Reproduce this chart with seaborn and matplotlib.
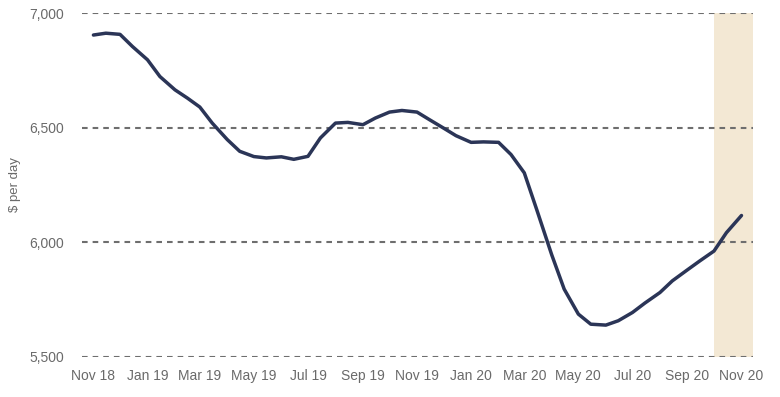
import matplotlib
matplotlib.use("Agg")
import matplotlib.pyplot as plt
import seaborn as sns
import pandas as pd

# ---- data ----
dates = pd.date_range("2018-11-01", periods=49, freq="SMS")
values = [6904, 6912, 6907, 6854, 6796, 6723, 6665, 6629, 6590, 6520,
          6448, 6397, 6374, 6368, 6373, 6362, 6375, 6455, 6520, 6523,
          6513, 6542, 6568, 6575, 6568, 6535, 6498, 6465, 6436, 6438,
          6436, 6383, 6303, 6143, 5945, 5796, 5687, 5643, 5639, 5658,
          5694, 5735, 5781, 5832, 5880, 5919, 5962, 6042, 6117]
tick_dates = pd.date_range("2018-11-01", "2020-11-01", freq="2MS")
tick_labels = ["Nov 18", "Jan 19", "Mar 19", "May 19", "Jul 19", "Sep 19",
               "Nov 19", "Jan 20", "Mar 20", "May 20", "Jul 20", "Sep 20", "Nov 20"]
y_ticks = [5500, 6000, 6500, 7000]
y_labels = ["5,500", "6,000", "6,500", "7,000"]
band_start = pd.Timestamp("2020-10-01")

df = pd.DataFrame({"date": dates, "value": values})

sns.set_theme(style="white")
plt.rcParams["font.family"] = ["Liberation Sans", "DejaVu Sans"]

fig = plt.figure(figsize=(7.8, 3.97), dpi=100)
ax = fig.add_axes([0.105, 0.1008, 0.8604, 0.8664])

xmin = pd.Timestamp("2018-10-19")
xmax = pd.Timestamp("2020-11-14")

ax.axvspan(band_start, xmax, color="#f3e8d4", zorder=0, lw=0)

for yv in y_ticks:
    ax.axhline(yv, color="#6e6e6e", lw=1.5, ls=(0, (2.7, 2.4)), zorder=1)

sns.lineplot(data=df, x="date", y="value", ax=ax, color="#2b3557",
             lw=2.5, zorder=3, solid_capstyle="round", solid_joinstyle="round")

ax.set_xlim(xmin, xmax)
ax.set_ylim(5500, 7000)
ax.set_xticks(tick_dates)
ax.set_xticklabels(tick_labels)
ax.set_yticks(y_ticks)
ax.set_yticklabels(y_labels)
ax.tick_params(axis="x", length=0, pad=9, labelsize=10, labelcolor="#6a6a6a")
ax.tick_params(axis="y", length=0, pad=13, labelsize=10, labelcolor="#6a6a6a")
ax.set_xlabel("")
ax.set_ylabel("$ per day", fontsize=9.5, color="#6a6a6a")
ax.yaxis.set_label_coords(-0.091, 0.5)
for s in ax.spines.values():
    s.set_visible(False)
ax.grid(False)

fig.savefig("out.png", dpi=100)
